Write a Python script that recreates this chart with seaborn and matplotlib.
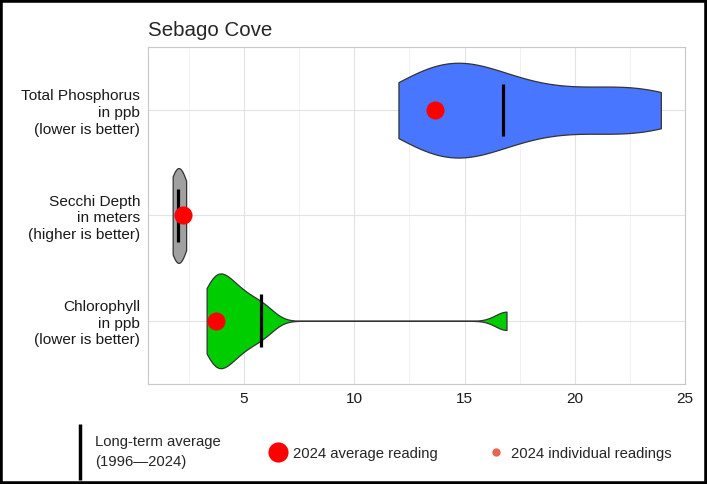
import numpy as np
import pandas as pd
import seaborn as sns
import matplotlib.pyplot as plt
from matplotlib.lines import Line2D
from matplotlib.patches import Rectangle
from matplotlib.ticker import MultipleLocator

# categories (top to bottom)
params = ["Total Phosphorus\nin ppb\n(lower is better)",
          "Secchi Depth\nin meters\n(higher is better)",
          "Chlorophyll\nin ppb\n(lower is better)"]

# long-term readings 1996-2024, estimated from the violin shapes
tp_values = [12.0, 12.5, 13.0, 13.5, 14.0, 14.0, 14.5, 15.0, 15.0, 15.5,
             16.0, 16.5, 17.0, 18.0, 19.0, 20.0, 21.0, 22.0, 23.0, 23.5, 23.9]
secchi_values = [1.76, 1.85, 1.95, 2.0, 2.05, 2.1, 2.2, 2.37]
chl_values = [3.3, 3.5, 3.7, 3.9, 4.1, 4.35, 4.65, 5.0, 5.45, 6.0, 16.9]

long_term_avg = [16.75, 2.02, 5.76]
avg_2024 = [13.66, 2.22, 3.71]

colors = ["#4876FF", "#A0A0A0", "#00CD00"]
bw_factor = [0.5, 2.0, 0.13]

df = pd.DataFrame({
    "param": [params[0]] * len(tp_values) + [params[1]] * len(secchi_values)
             + [params[2]] * len(chl_values),
    "value": tp_values + secchi_values + chl_values,
})

sns.set_style("white")
plt.rcParams["font.family"] = ["Liberation Sans", "DejaVu Sans"]

fig = plt.figure(figsize=(7.07, 4.84), dpi=100)
ax = fig.add_axes([0.2093, 0.2066, 0.7597, 0.6964])

# one violin per parameter so each gets its own bandwidth
for p, col, bwf in zip(params, colors, bw_factor):
    sub = df[df["param"] == p]
    sns.violinplot(data=sub, x="value", y="param", order=params, orient="h",
                   color=col, saturation=1, inner=None, cut=0, width=0.9,
                   density_norm="width", bw_method=bwf, linewidth=0.9,
                   linecolor="#333333", ax=ax)

ypos = np.arange(len(params))
ax.vlines(long_term_avg, ypos - 0.25, ypos + 0.25, color="black", lw=2.3, zorder=4)
ax.scatter(avg_2024, ypos, s=170, color="red", zorder=5, linewidths=0)

ax.set_xlim(0.64, 25.0)
ax.set_ylim(2.6, -0.6)
ax.xaxis.set_major_locator(MultipleLocator(5))
ax.xaxis.set_minor_locator(MultipleLocator(2.5))
ax.set_xlabel("")
ax.set_ylabel("")

ax.set_axisbelow(True)
ax.grid(True, which="major", color="#E3E3E3", lw=0.8)
ax.grid(True, which="minor", axis="x", color="#EFEFEF", lw=0.6)
for s in ax.spines.values():
    s.set_visible(True)
    s.set_color("#C8C8C8")
    s.set_linewidth(0.8)
ax.tick_params(which="major", length=2.5, color="#B3B3B3", width=0.8,
               labelsize=11.1, labelcolor="#1A1A1A", pad=3)
ax.tick_params(which="minor", length=0)
for lab in ax.get_yticklabels():
    lab.set_linespacing(1.25)

ax.set_title("Sebago Cove", loc="left", fontsize=14.8, pad=8)

handles = [
    Line2D([], [], color="black", marker="|", ls="None", markersize=40, markeredgewidth=2.5),
    Line2D([], [], color="red", marker="o", ls="None", markersize=14.5, markeredgewidth=0),
    Line2D([], [], color="#E8664F", marker="o", ls="None", markersize=6, markeredgewidth=0),
]
labels = ["Long-term average\n(1996\u20142024)", "2024 average reading", "2024 individual readings"]
leg = fig.legend(handles, labels, loc="center", bbox_to_anchor=(0.526, 0.066), ncol=3,
                 frameon=False, fontsize=10.7, handlelength=1.0, handletextpad=0.5,
                 columnspacing=3.4)
for t in leg.get_texts():
    t.set_linespacing(1.5)

fig.add_artist(Rectangle((0, 0), 1, 1, transform=fig.transFigure, fill=False,
                         ec="black", lw=4))

fig.savefig("out.png", dpi=100)
